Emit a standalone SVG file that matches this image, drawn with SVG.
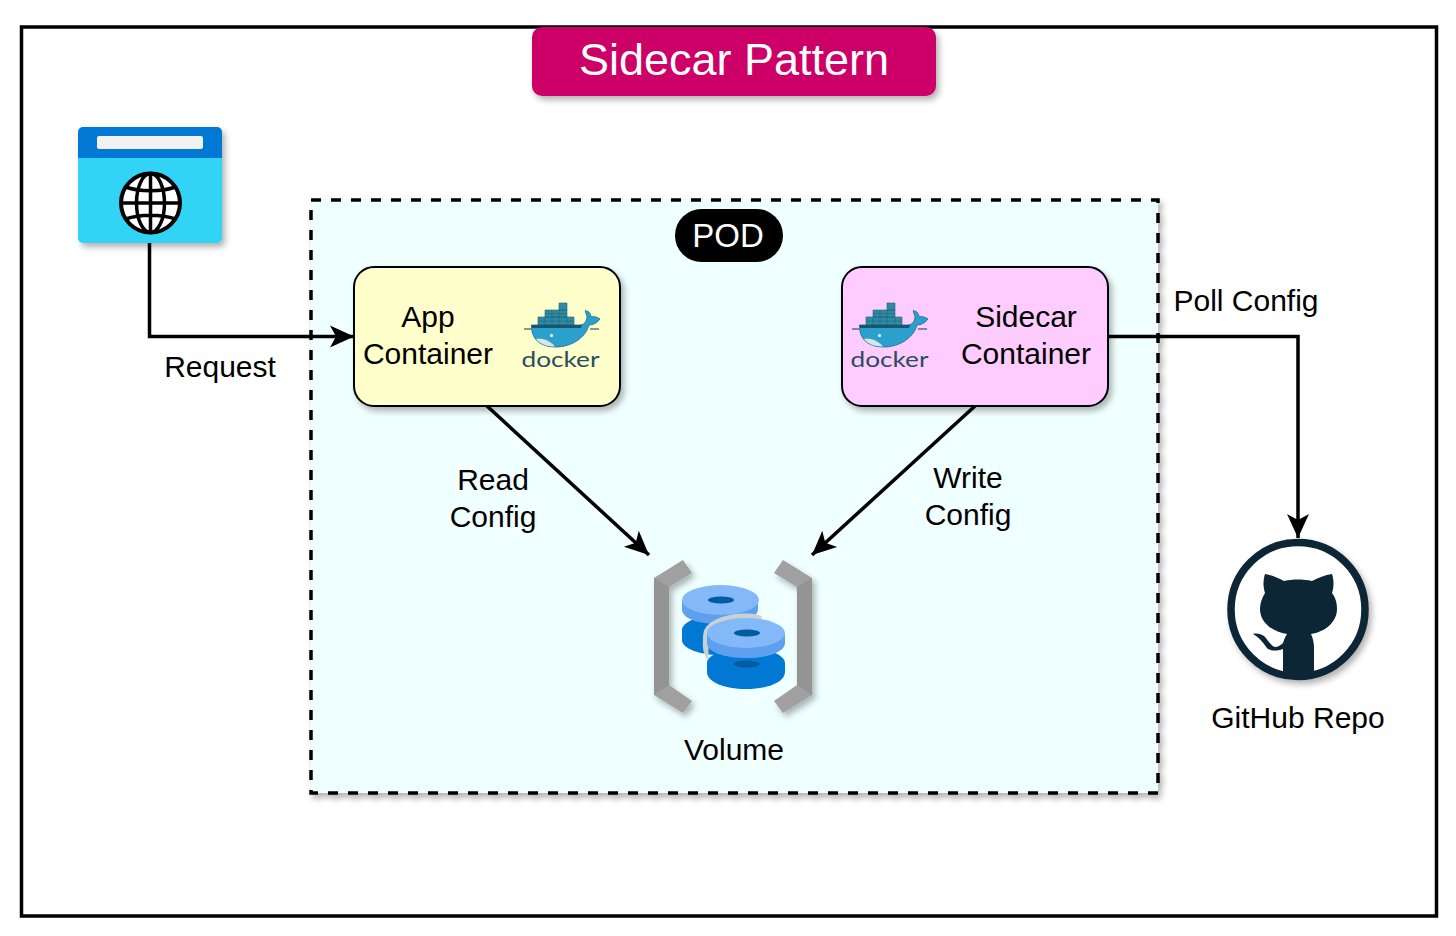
<svg xmlns="http://www.w3.org/2000/svg" xmlns:xlink="http://www.w3.org/1999/xlink" width="1456" height="936" viewBox="0 0 1456 936">
<style>
text{font-family:"Liberation Sans",Arial,sans-serif;font-size:30px;fill:#000;text-anchor:middle}
.conn{fill:none;stroke:#000;stroke-width:3.5}
.box{stroke:#000;stroke-width:2}
.dk{font-family:"Lato","Open Sans",sans-serif;font-size:21px;font-weight:400;fill:#2a4d60;text-anchor:start}
</style>
<defs>
<filter id="sh" x="-20%" y="-20%" width="140%" height="140%"><feDropShadow dx="3" dy="4" stdDeviation="3" flood-color="#000" flood-opacity="0.3"/></filter>
<marker id="arr" markerUnits="userSpaceOnUse" markerWidth="26" markerHeight="24" refX="24" refY="12" orient="auto"><path d="M0 1 L24 12 L0 23 L6 12 Z" fill="#000"/></marker>
<g id="whale">
<path d="M538 317h36v8h-36zM545 310h22v7h-22zM559 303h8v7h-8z" fill="#2f8ba3" stroke="#1d6478" stroke-width=".6"/>
<path d="M545 317v8M552 310v15M559 310v15M567 317v8M545 313.500h22M538 321h36" stroke="#1d6478" stroke-width=".6" fill="none"/>
<path d="M524 329h7M590 329h9" stroke="#12384a" stroke-width="1"/>
<path d="M531.500 325H579C584 325 587 322 587 316C585 312 585 309 586 311C589 311 591 314 591 317C594 316 597 317 600 319C597 323 593 325 589 325C586 337 572 347 556 347C540 347 531 339 531.500 325Z" fill="#2ba0cc" stroke="#1a6a88" stroke-width=".8"/>
<path d="M531.500 325H582L581 328H532Z" fill="#17566e"/>
<path d="M536 339C543 338 549 340 555 346.500C546 346.500 540 344 536 339Z" fill="#d8e6ea"/>
<circle cx="551.500" cy="335.500" r="1.500" fill="#fff"/>
</g>
</defs>

<rect id="frame" x="21.500" y="27" width="1415" height="889" fill="#fff" stroke="#000" stroke-width="3.500"/>

<g id="pod">
<rect x="311" y="200" width="847" height="593" fill="#f0ffff" stroke="#000" stroke-width="3.500" stroke-dasharray="10 10" filter="url(#sh)"/>
<rect x="675" y="209" width="108" height="53" rx="26.500" fill="#000"/>
<text x="728" y="247" style="font-size:33px;fill:#fff">POD</text>
</g>

<g id="title">
<rect x="532" y="27" width="404" height="69" rx="10" fill="#cc0066" filter="url(#sh)"/>
<text x="734" y="75" style="font-size:45px;fill:#fff">Sidecar Pattern</text>
</g>

<g id="client">
<g filter="url(#sh)">
<path d="M78 158H222V238a5 5 0 0 1-5 5H83a5 5 0 0 1-5-5Z" fill="#32d4f5"/>
<path d="M78 158V132a5 5 0 0 1 5-5H217a5 5 0 0 1 5 5V158Z" fill="#0078d4"/>
</g>
<rect x="97" y="136" width="106" height="13" rx="2" fill="#f2f2f2"/>
<g fill="none" stroke="#000" stroke-width="3.500">
<circle cx="150.500" cy="203" r="29.500" fill="#fff" stroke-width="4"/>
<ellipse cx="150.500" cy="203" rx="14" ry="29.500"/>
<path d="M150.500 173.500V232.500M121 203H180M125.500 187C140 192 161 192 175.500 187M125.500 219C140 214 161 214 175.500 219"/>
</g>
</g>

<g id="app-container">
<rect class="box" x="354" y="267" width="266" height="139" rx="20" fill="#ffffcc" filter="url(#sh)"/>
<text x="428" y="327">App</text>
<text x="428" y="364">Container</text>
<use href="#whale"/>
<text class="dk" x="521.500" y="367" textLength="78" lengthAdjust="spacingAndGlyphs">docker</text>
</g>

<g id="sidecar-container">
<rect class="box" x="842" y="267" width="266" height="139" rx="20" fill="#ffccff" filter="url(#sh)"/>
<text x="1026" y="327">Sidecar</text>
<text x="1026" y="364">Container</text>
<use href="#whale" x="328"/>
<text class="dk" x="850.500" y="367" textLength="78" lengthAdjust="spacingAndGlyphs">docker</text>
</g>

<g id="volume">
<g filter="url(#sh)">
<path d="M683 560L692 573L669 587V685L692 701L683 713L654 695V578Z" fill="#a0a0a0"/>
<path d="M654 578L669 587V685L654 695Z" fill="#949494"/>
<path d="M783 560L774 573L797 587V685L774 701L783 713L812 695V578Z" fill="#a0a0a0"/>
<path d="M812 578L797 587V685L812 695Z" fill="#949494"/>
</g>
<path d="M682 630C682 622 699 615 720 615C741 615 758 622 758 630V640C758 649 741 655 720 655C701 655 682 649 682 640Z" fill="#0078d4"/>
<path d="M682 600V609C682 619 699 624 720 624C741 624 758 619 758 609V600Z" fill="#5ea0ef"/>
<ellipse cx="720.500" cy="600" rx="38.500" ry="15" fill="#83b9f9"/>
<ellipse cx="721" cy="600" rx="13" ry="3.500" fill="#005ba1"/>
<path d="M707 656C703 650 704.500 644 704.500 636C704.500 623 724 615 746 615C752 615 756 615.500 760 617L760 640H707Z" fill="#c8d2d2" stroke="#c8d2d2" stroke-width="3"/>
<path d="M707 663C707 655 724 648 746 648C768 648 785 655 785 663V672C785 682 768 689 746 689C724 689 707 682 707 672Z" fill="#0078d4"/>
<ellipse cx="746.500" cy="664" rx="13" ry="3.500" fill="#005ba1"/>
<path d="M707 633V643C707 652 724 658 746 658C768 658 785 652 785 643V633Z" fill="#5ea0ef"/>
<ellipse cx="746" cy="633" rx="39" ry="15" fill="#83b9f9"/>
<ellipse cx="747" cy="633" rx="13" ry="3.500" fill="#005ba1"/>
<text x="734" y="760">Volume</text>
</g>

<g id="github">
<circle cx="1298" cy="609.500" r="67" fill="#fff" stroke="#0d2636" stroke-width="7.500" filter="url(#sh)"/>
<path d="M1265 574C1272 575 1278 578 1284 581C1293 579 1303 579 1312 581C1318 578 1325 575 1332 574C1334 580 1334 587 1332 593C1336 598 1337 604 1337 609C1337 622 1325 632 1311 634C1313 638 1314 643 1314 648V673C1304 676 1293 676 1283 673V649C1277 651 1271 651 1268 649C1264 645 1262 639 1253 634C1257 633 1261 634 1264 636C1268 640 1271 646 1275 647C1278 647 1281 645 1283 643C1284 640 1285 637 1287 634C1272 632 1260 622 1260 609C1260 603 1262 598 1265 593C1263 587 1263 580 1265 574Z" fill="#0d2636"/>
<text x="1298" y="728">GitHub Repo</text>
</g>

<g id="connectors">
<path class="conn" d="M149.500 243V336.500H354" marker-end="url(#arr)"/>
<path class="conn" d="M487 406L649 555" marker-end="url(#arr)"/>
<path class="conn" d="M975 406L812 555" marker-end="url(#arr)"/>
<path class="conn" d="M1108 336.500H1298V538" marker-end="url(#arr)"/>
<text x="220" y="377">Request</text>
<text x="493" y="490">Read</text>
<text x="493" y="527">Config</text>
<text x="968" y="488">Write</text>
<text x="968" y="525">Config</text>
<text x="1246" y="311">Poll Config</text>
</g>
</svg>
